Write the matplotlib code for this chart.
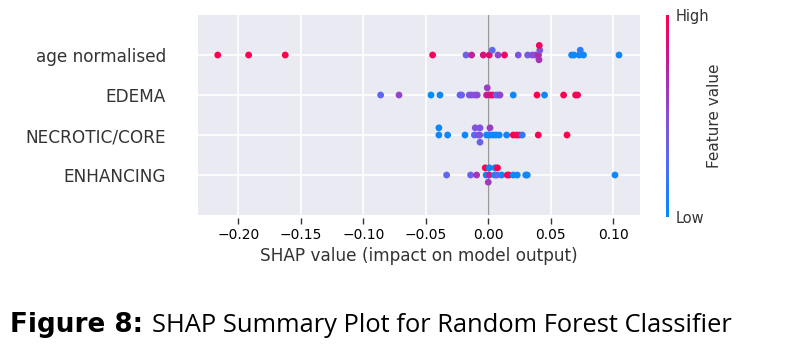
import numpy as np
import matplotlib
matplotlib.use("Agg")
from matplotlib import pyplot as plt
from matplotlib.colors import LinearSegmentedColormap

# features, top row first
features = ["age normalised", "EDEMA", "NECROTIC/CORE", "ENHANCING"]

# SHAP values, with the matching (scaled 0..1) feature values
age_shap = [-0.2164, -0.1917, -0.1624, -0.0445, -0.0178, -0.0133, -0.004, 0.0008, 0.0032,
            0.0078, 0.013, 0.024, 0.0315, 0.0352, 0.0375, 0.0402, 0.0412, 0.0406, 0.0408,
            0.0667, 0.0686, 0.0728, 0.0736, 0.0762, 0.1046]
age_feat = [1.0, 1.0, 1.0, 0.95, 0.35, 0.75, 0.85, 0.9, 0.3,
            0.55, 0.95, 0.45, 0.4, 0.5, 0.5, 0.7, 0.45, 0.65, 0.95,
            0.05, 0.05, 0.05, 0.15, 0.05, 0.05]

edema_shap = [-0.0861, -0.0714, -0.0458, -0.0386, -0.0226, -0.0213, -0.0152, -0.0133,
              -0.0106, -0.0088, -0.0013, -0.0008, 0.0017, 0.0035, 0.0062, 0.008, 0.0094,
              0.02, 0.039, 0.045, 0.0603, 0.0699, 0.0715]
edema_feat = [0.3, 0.55, 0.0, 0.05, 0.3, 0.35, 0.45, 0.45,
              0.5, 0.5, 0.8, 0.6, 0.8, 0.95, 0.35, 0.3, 0.55,
              0.05, 1.0, 0.05, 1.0, 1.0, 0.95]

necrotic_shap = [-0.0395, -0.0395, -0.0325, -0.0186, -0.0111, -0.0104, -0.008, -0.0068,
                 -0.0066, -0.0066, -0.0013, 0.0014, 0.0014, 0.004, 0.0062, 0.0088, 0.0147,
                 0.02, 0.0227, 0.025, 0.0272, 0.04, 0.063]
necrotic_feat = [0.05, 0.05, 0.05, 0.05, 0.3, 0.45, 0.45, 0.45,
                 0.45, 0.35, 0.05, 0.05, 0.6, 0.05, 0.05, 0.05, 0.05,
                 1.0, 1.0, 0.9, 0.15, 1.0, 1.0]

enhancing_shap = [-0.0333, -0.0141, -0.0093, -0.0017, -0.0024, 0.0008, 0.0008, 0.0,
                  0.0052, 0.0054, 0.007, 0.0074, 0.0107, 0.0152, 0.0165, 0.02, 0.0232,
                  0.03, 0.0312, 0.1014]
enhancing_feat = [0.3, 0.35, 0.65, 0.05, 1.0, 0.75, 0.05, 0.6,
                  0.05, 0.05, 0.3, 1.0, 0.05, 1.0, 0.95, 0.05, 0.05,
                  0.05, 0.05, 0.05]

xticks = [-0.20, -0.15, -0.10, -0.05, 0.00, 0.05, 0.10]

txt = "#333333"

# shap-like red/blue map
red_blue = LinearSegmentedColormap.from_list(
    "red_blue", [(0.0, "#008bfb"), (0.3, "#5f68ee"), (0.5, "#8a4ed6"),
                 (0.7, "#b02aaa"), (0.85, "#d8107c"), (1.0, "#ff0051")])


def beeswarm_offsets(vals, row_height=0.4, nbins=100):
    # same stacking rule shap uses (deterministic tie order)
    vals = np.asarray(vals)
    quant = np.round(nbins * (vals - vals.min()) / (vals.max() - vals.min() + 1e-8))
    inds = np.argsort(quant, kind="stable")
    ys = np.zeros(len(vals))
    layer = 0
    last = -1
    for i in inds:
        if quant[i] != last:
            layer = 0
        ys[i] = np.ceil(layer / 2) * ((layer % 2) * 2 - 1)
        layer += 1
        last = quant[i]
    ys *= 0.9 * (row_height / np.max(ys + 1))
    return ys


fig = plt.figure(figsize=(8, 3.56), dpi=100)
ax = fig.add_axes([0.2475, 0.396, 0.5525, 0.5618])
ax.set_facecolor("#EAEAF2")

rows = [(age_shap, age_feat), (edema_shap, edema_feat),
        (necrotic_shap, necrotic_feat), (enhancing_shap, enhancing_feat)]
n = len(features)
for k, (sv, fv) in enumerate(rows):
    pos = n - 1 - k
    ys = beeswarm_offsets(sv)
    ax.scatter(sv, pos + ys, c=fv, cmap=red_blue, vmin=0, vmax=1,
               s=24, linewidth=0, zorder=3)

ax.axvline(0, color="#999999", lw=1, zorder=2)
ax.set_yticks(range(n))
ax.set_yticklabels(features[::-1], fontsize=12.2, color=txt)
ax.set_ylim(-1, n)
ax.set_xlim(-0.2322, 0.1214)
ax.set_xticks(xticks)
ax.set_xticklabels(["\u2212%.2f" % abs(t) if t < 0 else "%.2f" % t for t in xticks],
                   fontsize=10.5, color=txt)
ax.set_xlabel("SHAP value (impact on model output)", fontsize=12.2, color=txt, labelpad=4)
ax.grid(True, color="white", lw=1.2, zorder=0)
ax.set_axisbelow(True)
for s in ax.spines.values():
    s.set_visible(False)
ax.spines["bottom"].set_position(("outward", 2))
ax.tick_params(axis="y", length=0, pad=23)
ax.tick_params(axis="x", length=4, width=1, color=txt, pad=3)

# colour bar
cax = fig.add_axes([0.8325, 0.3904, 0.0028, 0.567])
grad = np.linspace(0, 1, 256).reshape(-1, 1)
cax.imshow(grad, cmap=red_blue, aspect="auto", origin="lower", extent=[0, 1, 0, 1])
cax.set_xticks([])
cax.yaxis.tick_right()
cax.set_yticks([0, 1])
cax.set_yticklabels(["Low", "High"], fontsize=10.5, color=txt)
cax.tick_params(axis="y", length=0, pad=5)
for s in cax.spines.values():
    s.set_visible(False)
fig.text(0.893, 0.6755, "Feature value", rotation=90, fontsize=11, color=txt,
         ha="center", va="center")

# caption: fit both parts to the widths seen in the figure
W = fig.bbox.width
base = 0.068
t1 = fig.text(10 / W, base, "Figure 8:", fontsize=17, fontweight="bold",
              family="DejaVu Sans", va="baseline")
t2 = fig.text(152 / W, base, "SHAP Summary Plot for Random Forest Classifier",
              fontsize=17, family="Open Sans", va="baseline")
fig.canvas.draw()
w1 = t1.get_window_extent().width
w2 = t2.get_window_extent().width
t1.set_fontsize(17 * 133 / w1)
t2.set_fontsize(17 * 580 / w2)

fig.savefig("out.png", dpi=100)
